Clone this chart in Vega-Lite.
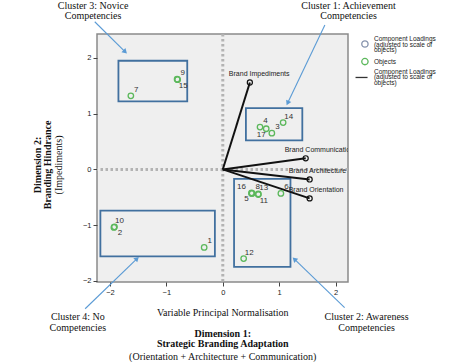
{
  "$schema": "https://vega.github.io/schema/vega-lite/v6.json",
  "width": 251,
  "height": 248,
  "autosize": {"type": "none"},
  "padding": {"left": 97, "top": 34, "right": 126, "bottom": 80},
  "background": "white",
  "config": {
    "view": {"fill": "#efefef", "stroke": "#8a8a8a", "strokeWidth": 1.5},
    "axis": {"grid": false, "domain": false, "labelFont": "Liberation Sans", "labelFontSize": 7.5, "labelColor": "#222", "tickColor": "#444", "tickSize": 4, "labelPadding": 2}
  },
  "datasets": {
    "objects": [
      {"id": 7, "x": -1.63, "y": 1.32},
      {"id": 9, "x": -0.81, "y": 1.62},
      {"id": 15, "x": -0.80, "y": 1.61},
      {"id": 4, "x": 0.66, "y": 0.76},
      {"id": 17, "x": 0.77, "y": 0.73},
      {"id": 3, "x": 0.87, "y": 0.65},
      {"id": 14, "x": 1.07, "y": 0.84},
      {"id": 16, "x": 0.51, "y": -0.43},
      {"id": 8, "x": 0.52, "y": -0.43},
      {"id": 5, "x": 0.51, "y": -0.42},
      {"id": 13, "x": 0.63, "y": -0.44},
      {"id": 11, "x": 0.63, "y": -0.45},
      {"id": 6, "x": 1.03, "y": -0.43},
      {"id": 12, "x": 0.37, "y": -1.60},
      {"id": 10, "x": -1.93, "y": -1.04},
      {"id": 2, "x": -1.92, "y": -1.03},
      {"id": 1, "x": -0.33, "y": -1.40}
    ],
    "loadings": [
      {"name": "Brand Impediments", "x0": 0, "y0": 0, "x": 0.48, "y": 1.56},
      {"name": "Brand Communication", "x0": 0, "y0": 0, "x": 1.47, "y": 0.20},
      {"name": "Brand Architecture", "x0": 0, "y0": 0, "x": 1.54, "y": -0.18},
      {"name": "Brand Orientation", "x0": 0, "y0": 0, "x": 1.54, "y": -0.52}
    ],
    "boxes": [
      {"cluster": "Cluster 3", "x": -1.85, "x2": -0.63, "y": 1.22, "y2": 1.95},
      {"cluster": "Cluster 1", "x": 0.41, "x2": 1.41, "y": 0.52, "y2": 1.10},
      {"cluster": "Cluster 2", "x": 0.20, "x2": 1.20, "y": -1.75, "y2": -0.17},
      {"cluster": "Cluster 4", "x": -2.17, "x2": -0.14, "y": -1.56, "y2": -0.74}
    ],
    "arrows": [
      {"cluster": "Cluster 3", "x": -2.27, "y": 2.65, "x2": -1.73, "y2": 2.11},
      {"cluster": "Cluster 1", "x": 1.81, "y": 2.59, "x2": 1.15, "y2": 1.19},
      {"cluster": "Cluster 4", "x": -2.44, "y": -2.50, "x2": -1.52, "y2": -1.60},
      {"cluster": "Cluster 2", "x": 2.16, "y": -2.48, "x2": 1.27, "y2": -1.61}
    ],
    "notesRegular": [
      {"x": -2.30, "y": 2.94, "text": "Cluster 3: Novice"},
      {"x": -2.30, "y": 2.75, "text": "Competencies"},
      {"x": 2.23, "y": 2.94, "text": "Cluster 1: Achievement"},
      {"x": 2.23, "y": 2.75, "text": "Competencies"},
      {"x": -2.57, "y": -2.65, "text": "Cluster 4: No"},
      {"x": -2.57, "y": -2.85, "text": "Competencies"},
      {"x": 2.55, "y": -2.64, "text": "Cluster 2: Awareness"},
      {"x": 2.55, "y": -2.84, "text": "Competencies"},
      {"x": 0, "y": -2.58, "text": "Variable Principal Normalisation"},
      {"x": 0, "y": -3.36, "text": "(Orientation + Architecture + Communication)"}
    ],
    "notesBold": [
      {"x": 0, "y": -2.96, "text": "Dimension 1:"},
      {"x": 0, "y": -3.14, "text": "Strategic Branding Adaptation"}
    ],
    "yTitleBold": [
      {"x": -3.27, "y": 0.08, "text": "Dimension 2:"},
      {"x": -3.09, "y": 0.08, "text": "Branding Hindrance"}
    ],
    "yTitleRegular": [
      {"x": -2.90, "y": 0.08, "text": "(Impediments)"}
    ],
    "legendSymbols": [
      {"item": "loadings", "x": 2.52, "y": 2.25},
      {"item": "objects", "x": 2.52, "y": 1.935},
      {"item": "vectors", "x": 2.46, "y": 1.65}
    ],
    "legendText": [
      {"x": 2.68, "y": 2.335, "text": "Component Loadings\n(adjusted to scale of\nobjects)"},
      {"x": 2.68, "y": 1.935, "text": "Objects"},
      {"x": 2.68, "y": 1.755, "text": "Component Loadings\n(adjusted to scale of\nobjects)"}
    ],
    "zero": [{"v": 0}]
  },
  "layer": [
    {
      "data": {"name": "zero"},
      "mark": {"type": "rule", "color": "#b3b3b3", "strokeDash": [2.5, 2.5], "strokeWidth": 3},
      "encoding": {
        "x": {"field": "v", "type": "quantitative", "scale": {"domain": [-2.23, 2.22], "nice": false, "zero": false}, "axis": {"values": [-2, -1, 0, 1, 2], "format": "d", "orient": "bottom", "title": null}}
      }
    },
    {
      "data": {"name": "zero"},
      "mark": {"type": "rule", "color": "#b3b3b3", "strokeDash": [2.5, 2.5], "strokeWidth": 3},
      "encoding": {
        "y": {"field": "v", "type": "quantitative", "scale": {"domain": [-2.02, 2.43], "nice": false, "zero": false}, "axis": {"values": [-2, -1, 0, 1, 2], "format": "d", "orient": "left", "title": null}}
      }
    },
    {
      "data": {"name": "boxes"},
      "mark": {"type": "rect", "filled": false, "stroke": "#41709f", "strokeWidth": 1.8},
      "encoding": {
        "x": {"field": "x", "type": "quantitative", "scale": {"domain": [-2.23, 2.22], "nice": false, "zero": false}},
        "x2": {"field": "x2"},
        "y": {"field": "y", "type": "quantitative", "scale": {"domain": [-2.02, 2.43], "nice": false, "zero": false}},
        "y2": {"field": "y2"}
      }
    },
    {
      "data": {"name": "loadings"},
      "mark": {"type": "rule", "color": "#111", "strokeWidth": 2},
      "encoding": {
        "x": {"field": "x0", "type": "quantitative", "scale": {"domain": [-2.23, 2.22], "nice": false, "zero": false}},
        "y": {"field": "y0", "type": "quantitative", "scale": {"domain": [-2.02, 2.43], "nice": false, "zero": false}},
        "x2": {"field": "x"},
        "y2": {"field": "y"}
      }
    },
    {
      "data": {"name": "loadings"},
      "mark": {"type": "point", "shape": "circle", "filled": false, "color": "#111", "size": 26, "strokeWidth": 1.2, "opacity": 1},
      "encoding": {
        "x": {"field": "x", "type": "quantitative", "scale": {"domain": [-2.23, 2.22], "nice": false, "zero": false}},
        "y": {"field": "y", "type": "quantitative", "scale": {"domain": [-2.02, 2.43], "nice": false, "zero": false}}
      }
    },
    {
      "data": {"name": "loadings"},
      "mark": {"type": "text", "clip": true, "align": "left", "baseline": "middle", "dx": -21, "dy": -8, "font": "Liberation Sans", "fontSize": 7, "color": "#222"},
      "encoding": {
        "x": {"field": "x", "type": "quantitative", "scale": {"domain": [-2.23, 2.22], "nice": false, "zero": false}},
        "y": {"field": "y", "type": "quantitative", "scale": {"domain": [-2.02, 2.43], "nice": false, "zero": false}},
        "text": {"field": "name", "type": "nominal"}
      }
    },
    {
      "data": {"name": "objects"},
      "mark": {"type": "point", "shape": "circle", "filled": false, "color": "#5cb85c", "size": 30, "strokeWidth": 1.3, "opacity": 1},
      "encoding": {
        "x": {"field": "x", "type": "quantitative", "scale": {"domain": [-2.23, 2.22], "nice": false, "zero": false}},
        "y": {"field": "y", "type": "quantitative", "scale": {"domain": [-2.02, 2.43], "nice": false, "zero": false}}
      }
    },
    {
      "data": {"name": "objects"},
      "transform": [{"filter": {"field": "id", "oneOf": [7, 9, 4, 3, 14, 8, 13, 6, 12, 10, 1]}}],
      "mark": {"type": "text", "align": "center", "baseline": "middle", "dx": 5.5, "dy": -6, "font": "Liberation Sans", "fontSize": 8, "color": "#333"},
      "encoding": {
        "x": {"field": "x", "type": "quantitative", "scale": {"domain": [-2.23, 2.22], "nice": false, "zero": false}},
        "y": {"field": "y", "type": "quantitative", "scale": {"domain": [-2.02, 2.43], "nice": false, "zero": false}},
        "text": {"field": "id", "type": "nominal"}
      }
    },
    {
      "data": {"name": "objects"},
      "transform": [{"filter": {"field": "id", "oneOf": [15, 11, 2]}}],
      "mark": {"type": "text", "align": "center", "baseline": "middle", "dx": 5.5, "dy": 6.5, "font": "Liberation Sans", "fontSize": 8, "color": "#333"},
      "encoding": {
        "x": {"field": "x", "type": "quantitative", "scale": {"domain": [-2.23, 2.22], "nice": false, "zero": false}},
        "y": {"field": "y", "type": "quantitative", "scale": {"domain": [-2.02, 2.43], "nice": false, "zero": false}},
        "text": {"field": "id", "type": "nominal"}
      }
    },
    {
      "data": {"name": "objects"},
      "transform": [{"filter": {"field": "id", "oneOf": [17, 5]}}],
      "mark": {"type": "text", "align": "center", "baseline": "middle", "dx": -5, "dy": 6.5, "font": "Liberation Sans", "fontSize": 8, "color": "#333"},
      "encoding": {
        "x": {"field": "x", "type": "quantitative", "scale": {"domain": [-2.23, 2.22], "nice": false, "zero": false}},
        "y": {"field": "y", "type": "quantitative", "scale": {"domain": [-2.02, 2.43], "nice": false, "zero": false}},
        "text": {"field": "id", "type": "nominal"}
      }
    },
    {
      "data": {"name": "objects"},
      "transform": [{"filter": {"field": "id", "oneOf": [16]}}],
      "mark": {"type": "text", "align": "center", "baseline": "middle", "dx": -10, "dy": -6, "font": "Liberation Sans", "fontSize": 8, "color": "#333"},
      "encoding": {
        "x": {"field": "x", "type": "quantitative", "scale": {"domain": [-2.23, 2.22], "nice": false, "zero": false}},
        "y": {"field": "y", "type": "quantitative", "scale": {"domain": [-2.02, 2.43], "nice": false, "zero": false}},
        "text": {"field": "id", "type": "nominal"}
      }
    },
    {
      "data": {"name": "arrows"},
      "mark": {"type": "rule", "color": "#5b9bd5", "strokeWidth": 1.1},
      "encoding": {
        "x": {"field": "x", "type": "quantitative", "scale": {"domain": [-2.23, 2.22], "nice": false, "zero": false}},
        "y": {"field": "y", "type": "quantitative", "scale": {"domain": [-2.02, 2.43], "nice": false, "zero": false}},
        "x2": {"field": "x2"},
        "y2": {"field": "y2"}
      }
    },
    {
      "data": {"name": "arrows"},
      "transform": [{"calculate": "atan2((datum.x2 - datum.x) * 56.4, (datum.y2 - datum.y) * 55.7) * 180 / PI", "as": "ang"}],
      "mark": {"type": "point", "shape": "triangle-up", "filled": true, "color": "#5b9bd5", "size": 32, "opacity": 1},
      "encoding": {
        "x": {"field": "x2", "type": "quantitative", "scale": {"domain": [-2.23, 2.22], "nice": false, "zero": false}},
        "y": {"field": "y2", "type": "quantitative", "scale": {"domain": [-2.02, 2.43], "nice": false, "zero": false}},
        "angle": {"field": "ang", "type": "quantitative", "scale": null}
      }
    },
    {
      "data": {"name": "notesRegular"},
      "mark": {"type": "text", "align": "center", "baseline": "middle", "font": "Liberation Serif", "fontSize": 10, "color": "#111"},
      "encoding": {
        "x": {"field": "x", "type": "quantitative", "scale": {"domain": [-2.23, 2.22], "nice": false, "zero": false}},
        "y": {"field": "y", "type": "quantitative", "scale": {"domain": [-2.02, 2.43], "nice": false, "zero": false}},
        "text": {"field": "text", "type": "nominal"}
      }
    },
    {
      "data": {"name": "notesBold"},
      "mark": {"type": "text", "align": "center", "baseline": "middle", "font": "Liberation Serif", "fontSize": 10, "fontWeight": "bold", "color": "#111"},
      "encoding": {
        "x": {"field": "x", "type": "quantitative", "scale": {"domain": [-2.23, 2.22], "nice": false, "zero": false}},
        "y": {"field": "y", "type": "quantitative", "scale": {"domain": [-2.02, 2.43], "nice": false, "zero": false}},
        "text": {"field": "text", "type": "nominal"}
      }
    },
    {
      "data": {"name": "yTitleBold"},
      "mark": {"type": "text", "align": "center", "baseline": "middle", "angle": 270, "font": "Liberation Serif", "fontSize": 10, "fontWeight": "bold", "color": "#111"},
      "encoding": {
        "x": {"field": "x", "type": "quantitative", "scale": {"domain": [-2.23, 2.22], "nice": false, "zero": false}},
        "y": {"field": "y", "type": "quantitative", "scale": {"domain": [-2.02, 2.43], "nice": false, "zero": false}},
        "text": {"field": "text", "type": "nominal"}
      }
    },
    {
      "data": {"name": "yTitleRegular"},
      "mark": {"type": "text", "align": "center", "baseline": "middle", "angle": 270, "font": "Liberation Serif", "fontSize": 10, "color": "#111"},
      "encoding": {
        "x": {"field": "x", "type": "quantitative", "scale": {"domain": [-2.23, 2.22], "nice": false, "zero": false}},
        "y": {"field": "y", "type": "quantitative", "scale": {"domain": [-2.02, 2.43], "nice": false, "zero": false}},
        "text": {"field": "text", "type": "nominal"}
      }
    },
    {
      "data": {"name": "legendSymbols"},
      "transform": [{"filter": "datum.item === 'loadings'"}],
      "mark": {"type": "point", "shape": "circle", "filled": false, "color": "#8693ad", "size": 40, "strokeWidth": 1.3, "opacity": 1},
      "encoding": {
        "x": {"field": "x", "type": "quantitative", "scale": {"domain": [-2.23, 2.22], "nice": false, "zero": false}},
        "y": {"field": "y", "type": "quantitative", "scale": {"domain": [-2.02, 2.43], "nice": false, "zero": false}}
      }
    },
    {
      "data": {"name": "legendSymbols"},
      "transform": [{"filter": "datum.item === 'objects'"}],
      "mark": {"type": "point", "shape": "circle", "filled": false, "color": "#5cb85c", "size": 40, "strokeWidth": 1.3, "opacity": 1},
      "encoding": {
        "x": {"field": "x", "type": "quantitative", "scale": {"domain": [-2.23, 2.22], "nice": false, "zero": false}},
        "y": {"field": "y", "type": "quantitative", "scale": {"domain": [-2.02, 2.43], "nice": false, "zero": false}}
      }
    },
    {
      "data": {"name": "legendSymbols"},
      "transform": [{"filter": "datum.item === 'vectors'"}],
      "mark": {"type": "point", "shape": "stroke", "filled": false, "color": "#333", "size": 144, "strokeWidth": 1.3, "opacity": 1},
      "encoding": {
        "x": {"field": "x", "type": "quantitative", "scale": {"domain": [-2.23, 2.22], "nice": false, "zero": false}},
        "y": {"field": "y", "type": "quantitative", "scale": {"domain": [-2.02, 2.43], "nice": false, "zero": false}}
      }
    },
    {
      "data": {"name": "legendText"},
      "mark": {"type": "text", "align": "left", "baseline": "middle", "lineBreak": "\n", "lineHeight": 5.6, "font": "Liberation Sans", "fontSize": 6.5, "color": "#222"},
      "encoding": {
        "x": {"field": "x", "type": "quantitative", "scale": {"domain": [-2.23, 2.22], "nice": false, "zero": false}},
        "y": {"field": "y", "type": "quantitative", "scale": {"domain": [-2.02, 2.43], "nice": false, "zero": false}},
        "text": {"field": "text", "type": "nominal"}
      }
    }
  ]
}
